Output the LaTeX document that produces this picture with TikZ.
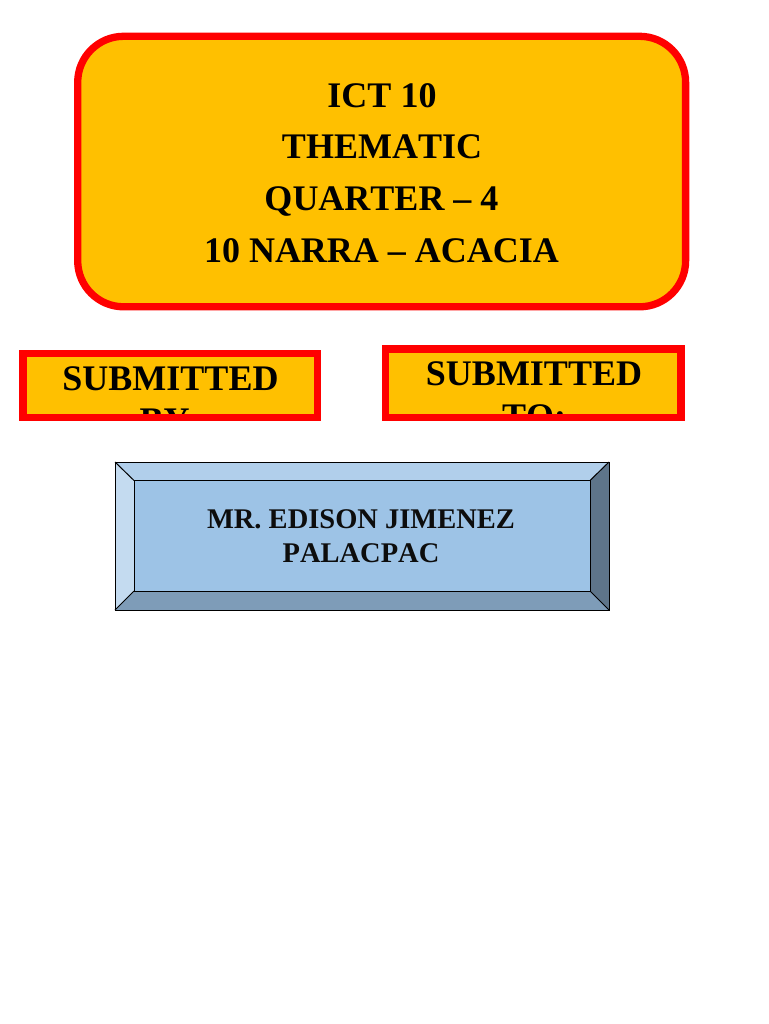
\documentclass[tikz,border=0pt]{standalone}
\usepackage{fontspec}
\setmainfont[Kerning=Off]{Liberation Serif}
\definecolor{amber}{HTML}{FFC000}
\definecolor{bevmain}{HTML}{9DC3E6}
\definecolor{bevtop}{HTML}{B1CFEB}
\definecolor{bevleft}{HTML}{C4DBF0}
\definecolor{bevbottom}{HTML}{7E9CB8}
\definecolor{bevright}{HTML}{5E758A}
\tikzset{
  titletext/.style={font=\bfseries\fontsize{36}{36}\selectfont,anchor=base,inner sep=0pt},
  subtext/.style={font=\bfseries\fontsize{36}{36}\selectfont,anchor=base,inner sep=0pt},
  nametext/.style={font=\bfseries\fontsize{28.5}{28.5}\selectfont,anchor=base,inner sep=0pt,text=black!95},
  redframe/.style={draw=red,line width=7.5pt},
  bevline/.style={draw=black,line width=1pt,line join=miter}
}
\begin{document}
\begin{tikzpicture}[x=1pt,y=-1pt]
\useasboundingbox (0,0) rectangle (768,1024);
\fill[white] (0,0) rectangle (768,1024);
% title panel
\draw[fill=amber,draw=red,line width=7.3pt,rounded corners=46pt] (77.7,36.3) rectangle (685.6,306.8);
\node[titletext] (t1) at (382,107.5) {ICT 10};
\node[titletext] (t2) at (382,158.5) {THEMATIC};
\node[titletext] (t3) at (381.5,210.5) {QUARTER – 4};
\node[titletext] (t4) at (381.5,262.5) {10 NARRA – ACACIA};
% submitted by
\fill[amber] (22.8,353.7) rectangle (317.3,417.3);
\begin{scope}
\clip (26.5,357.4) rectangle (313.6,413.6);
\node[subtext] (s1) at (170.5,390.5) {SUBMITTED};
\node[subtext] (s2) at (170.5,432) {BY:};
\end{scope}
\draw[redframe] (22.8,353.7) rectangle (317.3,417.3);
% submitted to
\fill[amber] (385.5,349.1) rectangle (681,417.3);
\begin{scope}
\clip (389.2,352.8) rectangle (677.3,413.6);
\node[subtext] (s3) at (534,385.5) {SUBMITTED};
\node[subtext] (s4) at (534,428) {TO:};
\end{scope}
\draw[redframe] (385.5,349.1) rectangle (681,417.3);
% bevel
\fill[bevtop] (115,462) -- (609,462) -- (590,480.5) -- (134,480.5) -- cycle;
\fill[bevleft] (115,462) -- (134,480.5) -- (134,591) -- (115,610) -- cycle;
\fill[bevbottom] (115,610) -- (134,591) -- (590,591) -- (609,610) -- cycle;
\fill[bevright] (609,462) -- (590,480.5) -- (590,591) -- (609,610) -- cycle;
\fill[bevmain] (134,480.5) rectangle (590,591);
\draw[bevline] (115,462) rectangle (609,610);
\draw[bevline] (134,480.5) rectangle (590,591);
\draw[bevline] (115,462) -- (134,480.5);
\draw[bevline] (609,462) -- (590,480.5);
\draw[bevline] (115,610) -- (134,591);
\draw[bevline] (609,610) -- (590,591);
\node[nametext] (n1) at (361,528) {MR. EDISON JIMENEZ};
\node[nametext] (n2) at (361,562) {PALACPAC};
\end{tikzpicture}
\end{document}
